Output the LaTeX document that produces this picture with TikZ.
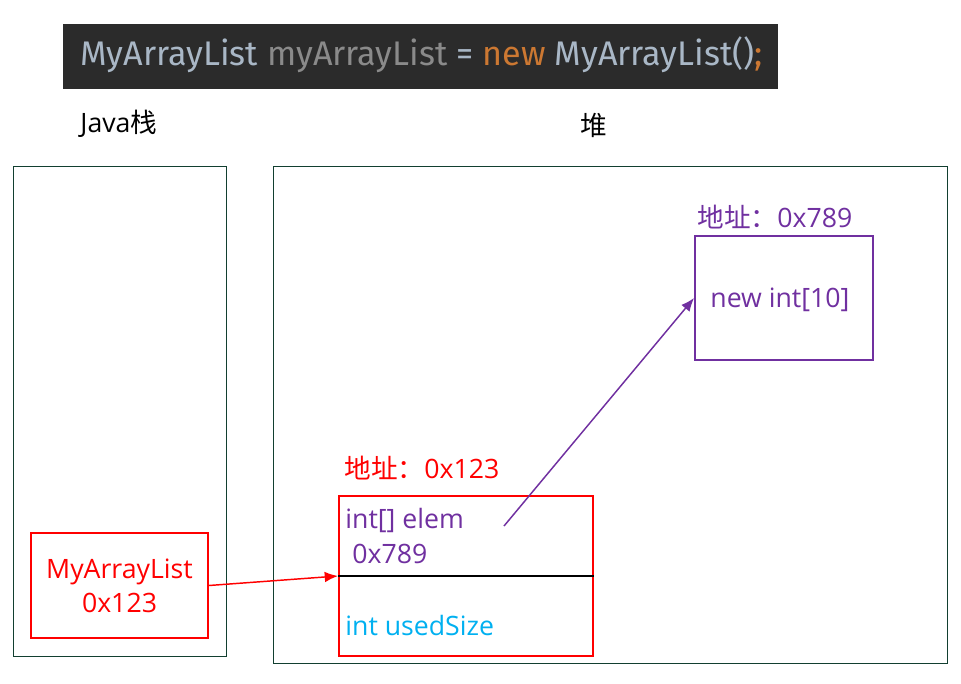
\documentclass[tikz,border=0pt]{standalone}
\usepackage{fontspec}
\setmainfont{Open Sans}
\newfontfamily\cjk{Noto Sans CJK SC}
\newfontfamily\codefont{Fira Sans}
\usetikzlibrary{calc,positioning,arrows.meta}
\definecolor{boxgreen}{HTML}{123F30}
\definecolor{objpurple}{HTML}{7030A0}
\definecolor{sizecyan}{HTML}{00B0F0}
\definecolor{codebg}{HTML}{2B2B2B}
\definecolor{codefg}{HTML}{A9B7C6}
\definecolor{codevar}{HTML}{8A8A8A}
\definecolor{codekw}{HTML}{CC7832}
\tikzset{
  txt/.style={inner sep=0pt,font=\fontsize{20}{25.5}\selectfont},
  area/.style={draw=boxgreen,thin,rectangle,inner sep=0pt},
  obj/.style={draw,line width=1.4pt,rectangle,inner sep=0pt},
  ptr/.style={line width=1.1pt,-{Latex[length=10pt,width=8pt]}}
}

\begin{document}
\begin{tikzpicture}[x=0.75pt,y=-0.75pt,semithick]
  \useasboundingbox (0,0) rectangle (961,683);

  % code line
  \node[fill=codebg,minimum width=536.25pt,minimum height=48.75pt,inner sep=0pt] (code) at (420.5,56.5) { };
  \node[inner sep=0pt,anchor=west,font=\codefont\fontsize{25.6}{28}\selectfont] (codetxt) at (80,55)
    {\color{codefg}MyArrayList \color{codevar}myArrayList \color{codefg}= \color{codekw}new \color{codefg}MyArrayList()\color{codekw};};

  % stack and heap
  \node[txt,anchor=west] (stacklbl) at (80,124) {Java{\cjk 栈}};
  \node[txt,anchor=west] (heaplbl) at (580,125) {\cjk 堆};
  \node[area,minimum width=159.75pt,minimum height=367.5pt] (stack) at (119.5,411) { };
  \node[area,minimum width=505.5pt,minimum height=372.75pt] (heap) at (610,414.5) { };

  % reference on the stack
  \node[obj,draw=red,text=red,txt,align=center,minimum width=132.75pt,minimum height=78.75pt] (ref) at (119.5,585.5) {MyArrayList\\0x123};

  % MyArrayList object
  \node[txt,anchor=west,text=red] (objaddr) at (344,468) {{\cjk 地址：}0x123};
  \node[obj,draw=red,minimum width=190.5pt,minimum height=120pt] (obj) at (466,576) { };
  \draw[black,line width=1.4pt] (obj.west) -- (obj.east);
  \node[txt,anchor=west,text=objpurple] (elem) at (345,520) {int[] elem};
  \node[txt,anchor=west,text=objpurple] (elemval) at (352,554) {0x789};
  \node[txt,anchor=west,text=sizecyan] (size) at (345,625) {int usedSize};
  \coordinate (elemptr) at (504,526);

  % int array
  \node[txt,anchor=west,text=objpurple] (arraddr) at (697,217) {{\cjk 地址：}0x789};
  \node[obj,draw=objpurple,minimum width=133.5pt,minimum height=93pt] (arr) at (784,298) { };
  \node[txt,anchor=west,text=objpurple] (arrtxt) at (710,300) {new int[10]};

  % pointers
  \draw[red,ptr] (ref.east) -- (obj.west);
  \draw[objpurple,ptr] (elemptr) -- (arr.west);

\end{tikzpicture}
\end{document}
